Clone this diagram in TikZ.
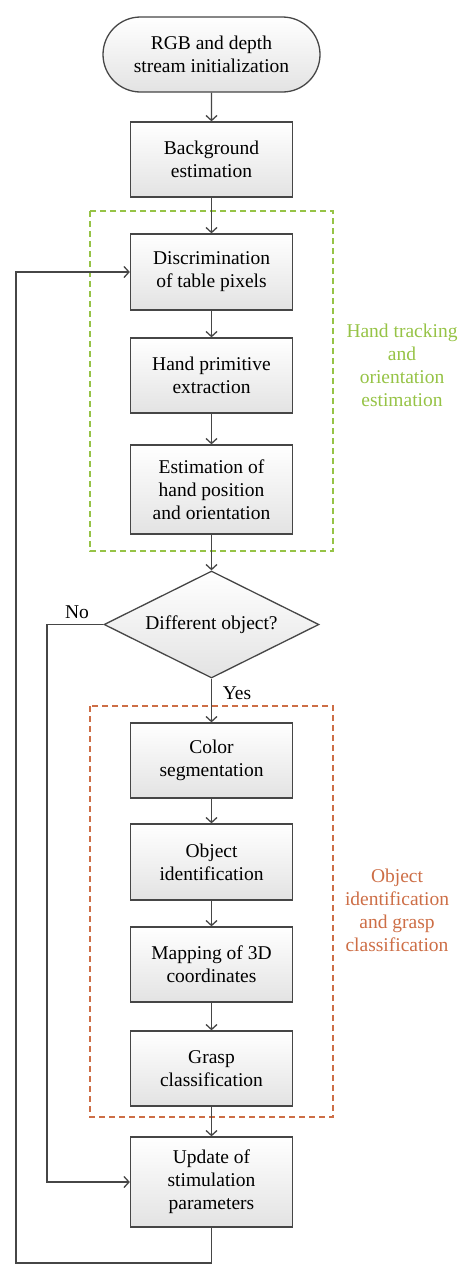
\documentclass[tikz,border=0pt]{standalone}
\usepackage{fontspec}
\setmainfont{Liberation Serif}
\usetikzlibrary{shapes.misc,shapes.geometric,arrows.meta}
\definecolor{linegray}{RGB}{70,70,70}
\definecolor{hgreen}{RGB}{150,195,70}
\definecolor{oorange}{RGB}{205,110,70}
\begin{document}
\begin{tikzpicture}[x=1pt,y=-1pt,
  every node/.style={font=\fontsize{19.5}{23}\selectfont, text=black},
  procbox/.style={draw=linegray, line width=1.3pt, rectangle, minimum width=162pt, inner sep=0pt, align=center, top color=white, bottom color=gray!22},
  termbox/.style={draw=linegray, line width=1.3pt, rounded rectangle, minimum width=217pt, minimum height=75pt, inner sep=0pt, align=center, top color=white, bottom color=gray!22},
  decbox/.style={draw=linegray, line width=1.3pt, diamond, aspect=2, minimum width=215pt, minimum height=107pt, inner sep=0pt, align=center, top color=white, bottom color=gray!22},
  conn/.style={draw=linegray, line width=1.3pt, -{Straight Barb[length=5pt,width=11pt,line width=1.3pt]}},
  grp/.style={line width=1.3pt, dash pattern=on 6pt off 4pt}
]
\useasboundingbox (0,0) rectangle (474,1280);

% groups
\draw[grp, draw=hgreen] (90,211) rectangle (333,551);
\draw[grp, draw=oorange] (90,706) rectangle (333,1117);

\node[termbox] (start) at (211.5,54.5) {RGB and depth\\stream initialization};
\node[procbox, minimum height=75pt] (bg) at (211.5,159.5) {Background\\estimation};
\node[procbox, minimum height=76pt] (disc) at (211.5,272) {Discrimination\\of table pixels};
\node[procbox, minimum height=75pt] (hand) at (211.5,375.5) {Hand primitive\\extraction};
\node[procbox, minimum height=89pt] (est) at (211.5,489.5) {Estimation of\\hand position\\and orientation};
\node[decbox] (dec) at (211.5,624.5) {Different object?};
\node[procbox, minimum height=75pt] (color) at (211.5,760.5) {Color\\segmentation};
\node[procbox, minimum height=76pt] (obj) at (211.5,862) {Object\\identification};
\node[procbox, minimum height=75pt] (map) at (211.5,964.5) {Mapping of 3D\\coordinates};
\node[procbox, minimum height=75pt] (grasp) at (211.5,1068.5) {Grasp\\classification};
\node[procbox, minimum height=90pt] (upd) at (211.5,1182) {Update of\\stimulation\\parameters};

\node[text=hgreen, align=center] (lblh) at (402,365) {Hand tracking\\and\\orientation\\estimation};
\node[text=oorange, align=center] (lblo) at (397,910) {Object\\identification\\and grasp\\classification};

\node (no) at (77,612) {No};
\node (yes) at (237,693) {Yes};

\coordinate (noA) at (47,624.5);
\coordinate (noB) at (47,1182);
\coordinate (lpA) at (211.5,1263);
\coordinate (lpB) at (16,1263);
\coordinate (lpC) at (16,272);

\draw[conn] (start) -- (bg);
\draw[conn] (bg) -- (disc);
\draw[conn] (disc) -- (hand);
\draw[conn] (hand) -- (est);
\draw[conn] (est) -- (dec.north);
\draw[conn] (dec.south) -- (color);
\draw[conn] (color) -- (obj);
\draw[conn] (obj) -- (map);
\draw[conn] (map) -- (grasp);
\draw[conn] (grasp) -- (upd);
\draw[conn] (dec.west) -- (noA) -- (noB) -- (upd.west);
\draw[conn] (upd.south) -- (lpA) -- (lpB) -- (lpC) -- (disc.west);
\end{tikzpicture}
\end{document}
